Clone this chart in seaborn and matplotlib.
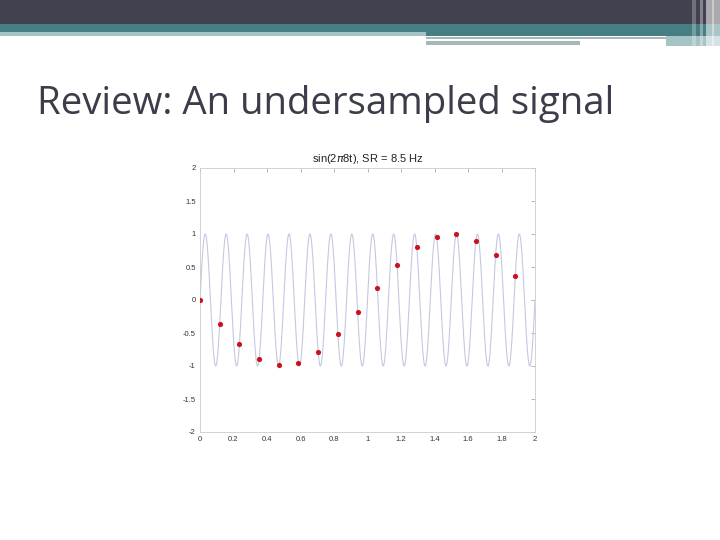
import numpy as np
import pandas as pd
import matplotlib
matplotlib.use("Agg")
import matplotlib.pyplot as plt
import seaborn as sns

# signal parameters (from the chart title)
signal_freq = 8.0
sample_rate = 8.5

# sample points
sample_t = [0.0, 0.118, 0.235, 0.353, 0.471, 0.588, 0.706, 0.824, 0.941,
            1.059, 1.176, 1.294, 1.412, 1.529, 1.647, 1.765, 1.882]
sample_y = [0.0, -0.36, -0.66, -0.89, -0.99, -0.96, -0.79, -0.52, -0.18,
            0.18, 0.53, 0.80, 0.96, 1.0, 0.90, 0.68, 0.36]

x_ticks = [0, 0.2, 0.4, 0.6, 0.8, 1, 1.2, 1.4, 1.6, 1.8, 2]
y_ticks = [-2, -1.5, -1, -0.5, 0, 0.5, 1, 1.5, 2]

sns.set_style("white")
plt.rcParams["font.family"] = ["Liberation Sans", "DejaVu Sans"]

# continuous 8 Hz tone
t = np.linspace(0, 2, 1601)
wave = pd.DataFrame({"t": t, "y": np.sin(2 * np.pi * signal_freq * t)})
samples = pd.DataFrame({"t": sample_t, "y": sample_y})

fig = plt.figure(figsize=(7.2, 5.4), dpi=100)


def band(x0, y0, w, h, color, alpha=1.0):
    # rectangle in pixel units, y measured from the top
    fig.patches.append(plt.Rectangle((x0 / 720, 1 - (y0 + h) / 540), w / 720, h / 540,
                                     transform=fig.transFigure, color=color,
                                     alpha=alpha, zorder=0, linewidth=0))


# slide header bands
band(0, 0, 720, 24, "#41414f")
band(0, 24, 720, 9, "#467e83")
band(0, 32, 426, 4, "#a6c3c6")
band(426, 32, 294, 4, "#467e83")
band(426, 37, 240, 2, "#a6b8ba")
band(426, 41, 154, 4, "#a6b8ba")
band(666, 36, 54, 10, "#a6c3c6")
band(692, 0, 4, 46, "#ffffff", 0.25)
band(700, 0, 3, 46, "#ffffff", 0.35)
band(706, 0, 14, 48, "#ffffff", 0.55)
band(712, 0, 2, 48, "#ffffff", 0.4)

fig.text(37 / 720, 1 - 104 / 540, "Review: An undersampled signal", fontsize=27.6,
         color="#3c3c4a", va="center", ha="left", family=["Open Sans", "DejaVu Sans"])

ax = fig.add_axes([200 / 720, 1 - 432 / 540, 335 / 720, 264 / 540])
sns.lineplot(data=wave, x="t", y="y", ax=ax, color="#c4c8e2", linewidth=0.8)
sns.scatterplot(data=samples, x="t", y="y", ax=ax, color="#c8141e", s=14,
                edgecolor="#c8141e", linewidth=0, zorder=3)

ax.set_xlim(0, 2)
ax.set_ylim(-2, 2)
ax.set_xticks(x_ticks)
ax.set_xticklabels([f"{v:g}" for v in x_ticks])
ax.set_yticks(y_ticks)
ax.set_yticklabels([f"{v:g}" for v in y_ticks])
ax.tick_params(direction="in", length=3, width=0.5, labelsize=5.5, colors="#999999",
               labelcolor="#333333", pad=3, top=True, right=True)
for s in ax.spines.values():
    s.set_color("#cccccc")
    s.set_linewidth(0.6)
ax.set_xlabel("")
ax.set_ylabel("")
ax.set_title("sin(2$\\pi$8t), SR = 8.5 Hz", fontsize=8, color="#222222", pad=4)

fig.savefig("out.png", dpi=100)
